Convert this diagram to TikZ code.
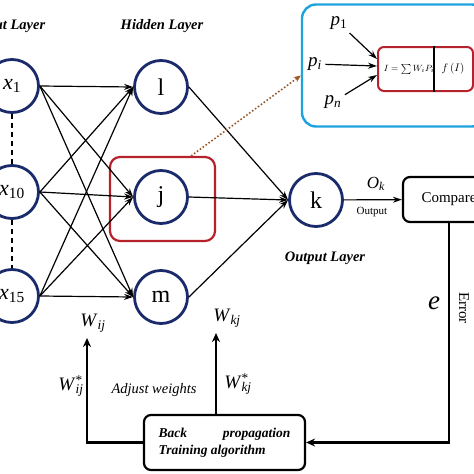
\documentclass[tikz,border=0pt]{standalone}
\usepackage{fontspec}
\setmainfont{Liberation Serif}
\usetikzlibrary{arrows.meta}
\definecolor{navy}{HTML}{1B2A6B}
\definecolor{boxred}{HTML}{B5222B}
\definecolor{insetblue}{HTML}{1FA3DD}
\definecolor{dotbrown}{HTML}{9C5A2A}
\newcommand{\xlab}[1]{\textit{x}\textsubscript{#1}}
\newcommand{\wstar}[1]{\textit{W}\rlap{\textsuperscript{*}}\textsubscript{\textit{#1}}}
\begin{document}
\begin{tikzpicture}[x=1pt,y=-1pt,
  neuron/.style={circle,draw=navy,line width=2.8pt,minimum size=53pt,inner sep=0pt,font=\fontsize{24}{24}\selectfont},
  conn/.style={line width=1.2pt,-{Stealth[length=9pt,width=6pt]}},
  fb/.style={line width=2.4pt,-{Stealth[length=9pt,width=8pt]}},
  layerlbl/.style={font=\fontsize{14.5}{14.5}\selectfont\bfseries\itshape},
  wlbl/.style={font=\fontsize{19}{19}\selectfont},
  plbl/.style={font=\fontsize{19}{19}\selectfont\itshape},
  blockbox/.style={draw,line width=2.2pt,rounded corners=7pt,inner sep=0pt}
]
\useasboundingbox (0,0) rectangle (474,474);
\clip (0,0) rectangle (474,474);

% layer labels
\node[layerlbl] (inlbl) at (9.5,26) {Input Layer};
\node[layerlbl] (hidlbl) at (162,26) {Hidden Layer};
\node[layerlbl] (outlbl) at (325,258) {Output Layer};

% neurons
\node[neuron,font=\fontsize{22}{22}\selectfont] (x1) at (12,86) {\xlab{1}};
\node[neuron,font=\fontsize{22}{22}\selectfont] (x10) at (12,192) {\xlab{10}};
\node[neuron,font=\fontsize{22}{22}\selectfont] (x15) at (12,296) {\xlab{15}};
\node[neuron] (l) at (161,87) {l};
\node[neuron] (j) at (161,197) {j};
\node[neuron] (m) at (161,297) {m};
\node[neuron] (k) at (316,200) {k};

\draw[line width=1.5pt,dash pattern=on 5pt off 4pt] (x1) -- (x10);
\draw[line width=1.5pt,dash pattern=on 5pt off 4pt] (x10) -- (x15);

% red box around j
\node[draw=boxred,line width=2.2pt,rounded corners=10pt,minimum width=105pt,minimum height=84pt] (jbox) at (162.5,199) {};

% input -> hidden
\foreach \i in {x1,x10,x15}{
  \foreach \h in {l,j,m}{
    \draw[conn] (\i.east) -- (\h.west);
  }
}
% hidden -> output
\foreach \h in {l,j,m}{
  \draw[conn] (\h.east) -- (k.west);
}

% compare box
\node[blockbox,minimum width=92pt,minimum height=45pt,font=\fontsize{15}{15}\selectfont] (cmp) at (449,199.5) {Compare};
\draw[conn] (k) -- (cmp);
\node[font=\fontsize{17}{17}\selectfont] (ok) at (376,184) {\textit{O}\textsubscript{\textit{k}}};
\node[font=\fontsize{11}{11}\selectfont] (outtxt) at (372,212) {Output};

% back propagation box
\node[blockbox,minimum width=161pt,minimum height=55pt,align=left,font=\fontsize{13.5}{17}\selectfont\bfseries\itshape] (bp) at (224.5,442.5)
  {\makebox[132pt][l]{Back\hfill propagation}\\\makebox[132pt][l]{Training algorithm}};

% error path
\draw[fb] (cmp.south) |- (bp.east);
\node[font=\fontsize{27}{27}\selectfont\itshape] (e) at (434,303) {e};
\node[rotate=-90,font=\fontsize{15}{15}\selectfont] (err) at (464,308) {Error};

% weight adjustment
\coordinate (wijtip) at (87,338);
\coordinate (wkjtip) at (216,333);
\draw[fb] (bp.west) -| (wijtip);
\draw[fb] (bp.north -| wkjtip) -- (wkjtip);
\node[wlbl] (wij) at (93,323) {\textit{W}\textsubscript{\textit{ij}}};
\node[wlbl] (wijs) at (71,386) {\wstar{ij}};
\node[wlbl] (wkj) at (227,318) {\textit{W}\textsubscript{\textit{kj}}};
\node[wlbl] (wkjs) at (238,384) {\wstar{kj}};
\node[font=\fontsize{14.5}{14.5}\selectfont\itshape] (adj) at (154,390) {Adjust weights};

% inset
\node[draw=insetblue,line width=2.4pt,rounded corners=14pt,minimum width=184pt,minimum height=122pt] (inset) at (394,65.5) {};
\node[draw=boxred,line width=2pt,rounded corners=6pt,minimum width=95pt,minimum height=44pt] (cell) at (425.5,69) {};
\coordinate (dv) at (434,69);
\draw[line width=2pt] (dv |- cell.north) -- (dv |- cell.south);
\node[font=\fontsize{9.5}{9.5}\selectfont] (sum) at (409,69) {$I=\sum W_iP_i$};
\node[font=\fontsize{11}{11}\selectfont] (fI) at (453,69) {$f\,(I)$};
\node[plbl] (p1) at (339,23) {p\textsubscript{\upshape 1}};
\node[plbl] (pi) at (315,64) {p\textsubscript{\textit{i}}};
\node[plbl] (pn) at (333,102) {p\textsubscript{\textit{n}}};
\draw[conn] (p1) -- ([yshift=10pt]cell.west);
\draw[conn] (pi) -- ([yshift=3pt]cell.west);
\draw[conn] (pn) -- ([yshift=-6pt]cell.west);

% dotted link
\draw[dotbrown,line width=1.6pt,dotted,-{Stealth[length=7pt,width=6pt]}] ([xshift=-25pt]jbox.north east) -- ([yshift=-10pt]inset.west);
\end{tikzpicture}
\end{document}
